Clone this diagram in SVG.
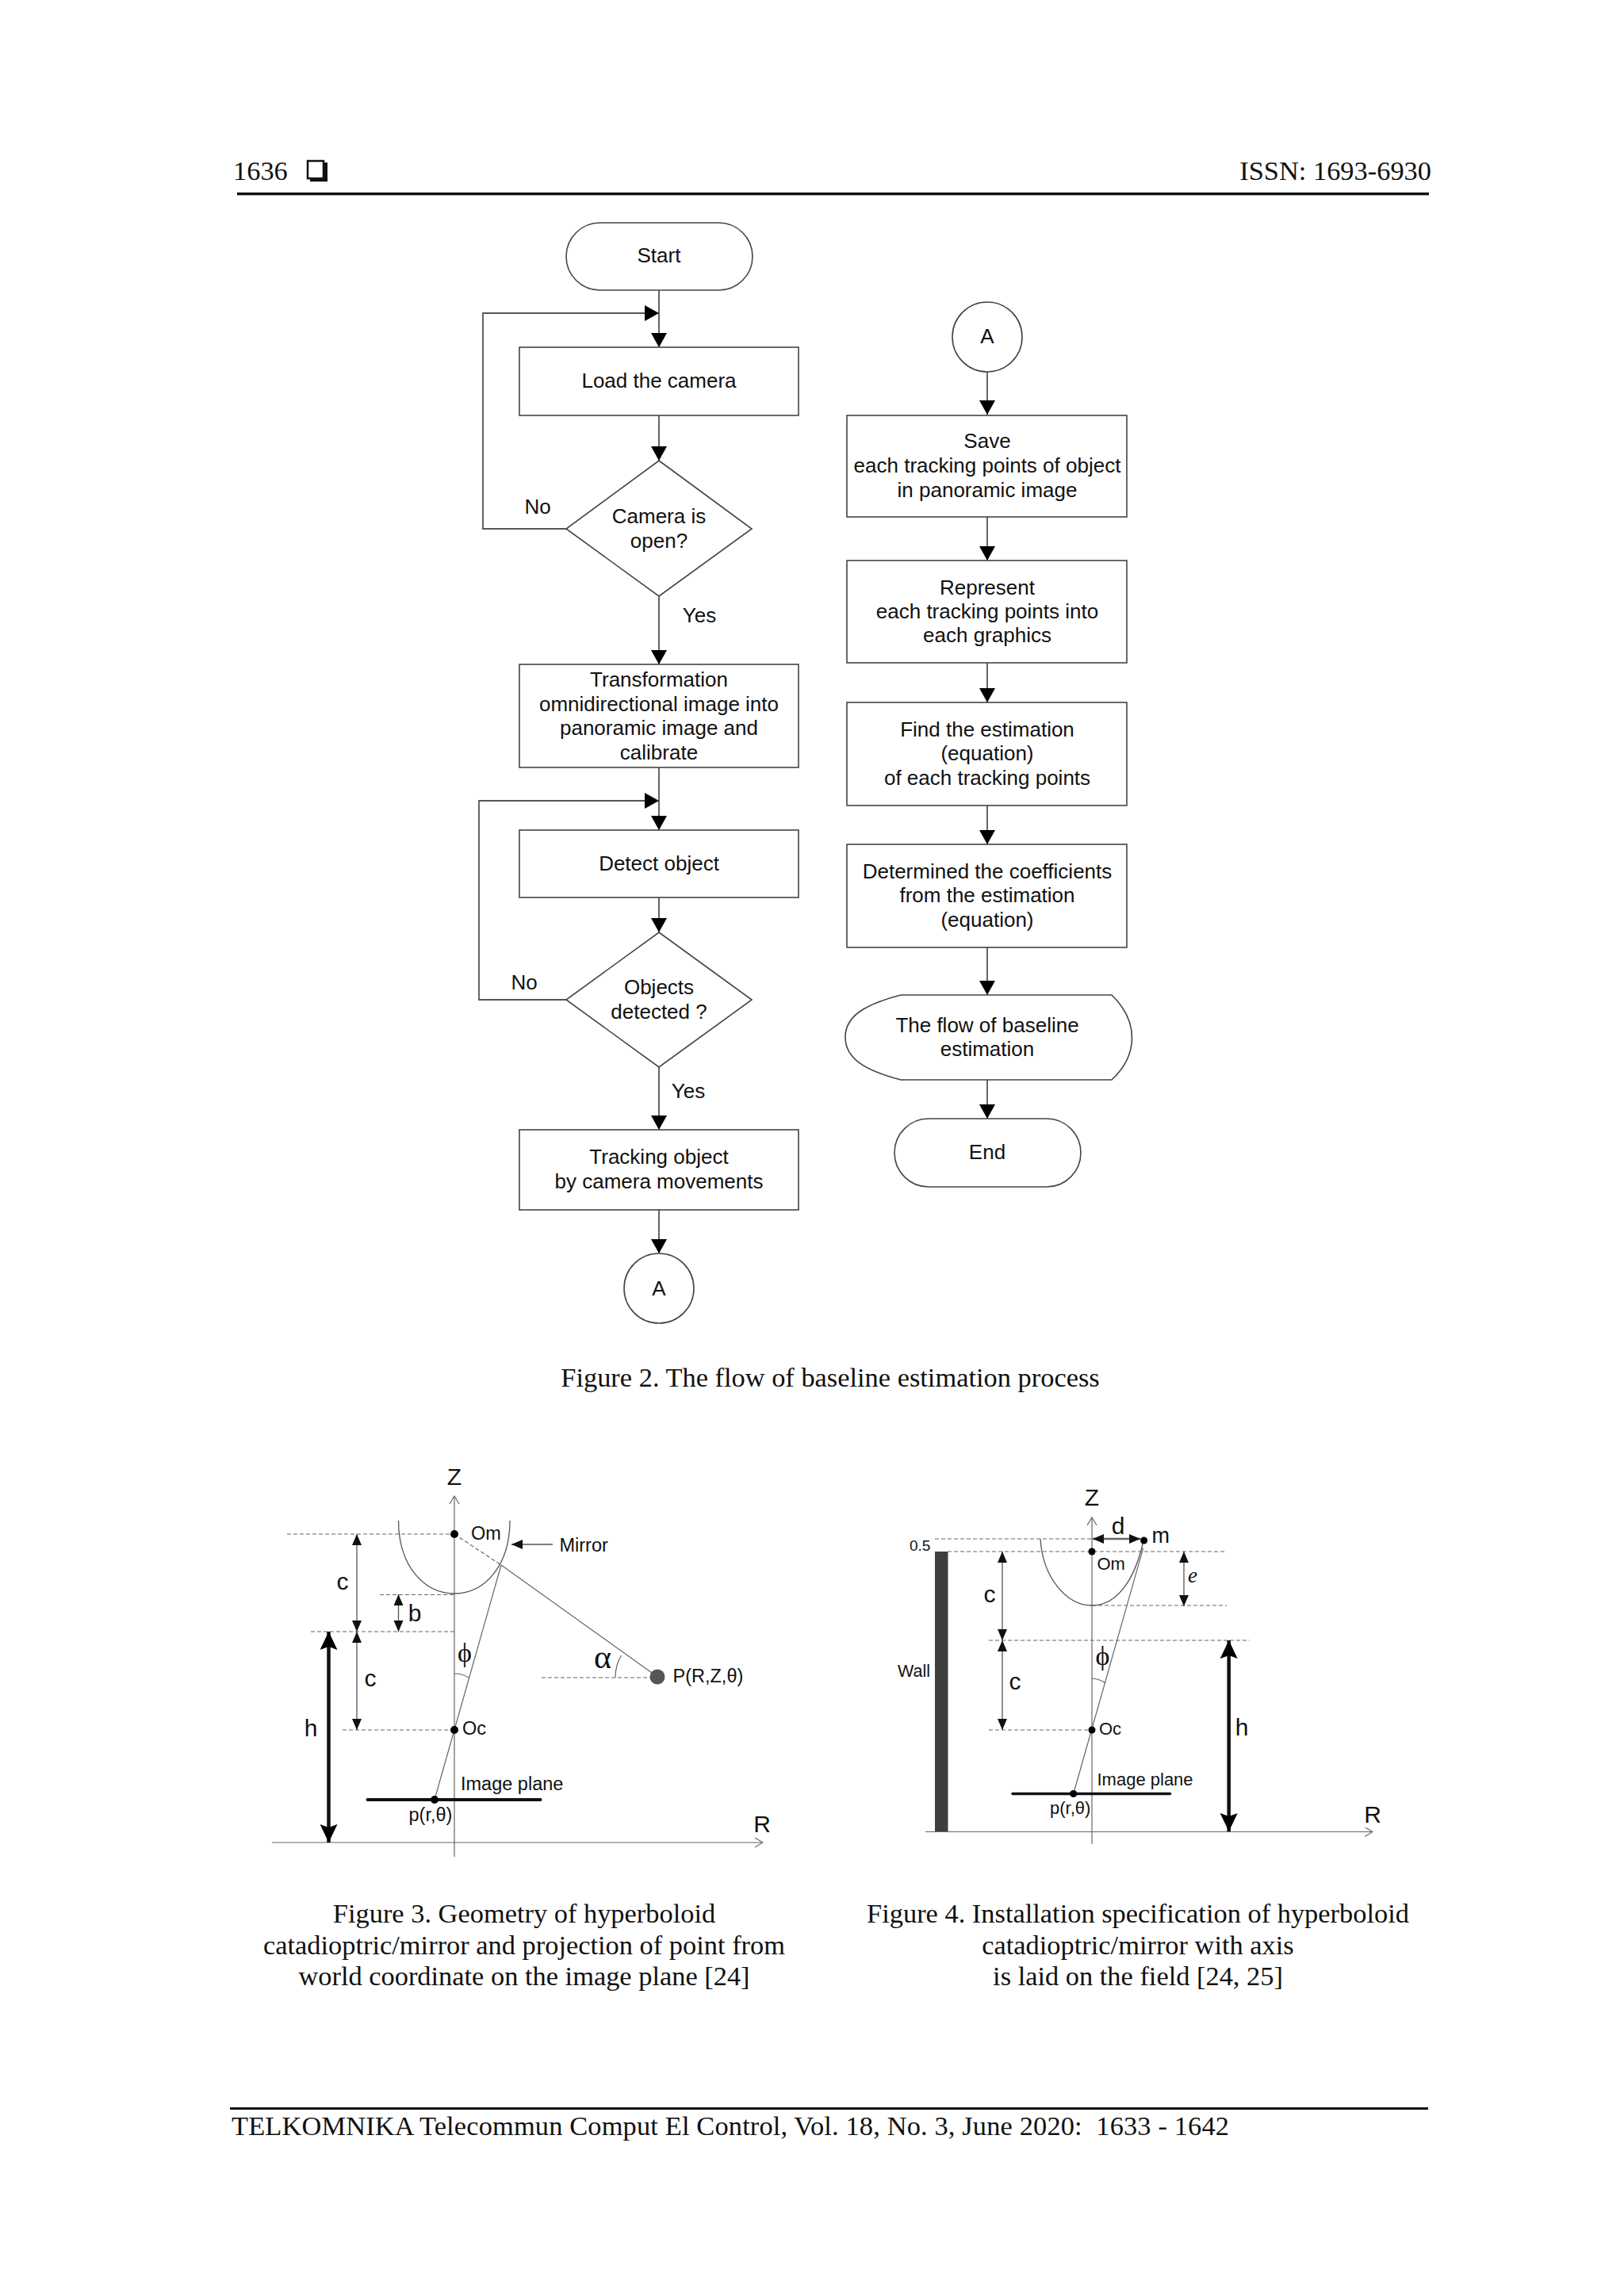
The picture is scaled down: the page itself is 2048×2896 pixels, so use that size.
<svg xmlns="http://www.w3.org/2000/svg" width="2048" height="2896" viewBox="0 0 2048 2896">
<style>
text{font-family:"Liberation Sans",Arial,sans-serif;fill:#111}
.t{font-family:"Liberation Serif","Times New Roman",serif;font-size:34.400px}
.f{font-size:26px;text-anchor:middle}
.n{fill:#fff;stroke:#444;stroke-width:1.6}
.c{fill:none;stroke:#555;stroke-width:1.8}
.g{fill:none;stroke:#666;stroke-width:1.2}
.d{fill:none;stroke:#666;stroke-width:1.2;stroke-dasharray:5 3}
.k{fill:none;stroke:#555;stroke-width:1.3}
.b{fill:none;stroke:#111;stroke-width:4.500}
.l{font-size:23.500px}
.l4{font-size:22px}
.m{font-size:30px;text-anchor:middle}
.gr{font-family:"Liberation Serif",serif;font-size:34px;text-anchor:middle}
.al{font-family:"Liberation Serif",serif;font-size:42px;text-anchor:middle}
</style>
<defs>
<marker id="a" markerUnits="userSpaceOnUse" markerWidth="19" markerHeight="20" refX="18" refY="10" orient="auto"><path d="M0,0L18,10L0,20Z" fill="#000"/></marker>
<marker id="s" markerUnits="userSpaceOnUse" markerWidth="15" markerHeight="13" refX="14" refY="6.500" orient="auto-start-reverse"><path d="M0,0.500L14,6.500L0,12.500Z" fill="#111"/></marker>
<marker id="h" markerUnits="userSpaceOnUse" markerWidth="24" markerHeight="22" refX="23" refY="11" orient="auto-start-reverse"><path d="M0,0L23,11L0,22L4,11Z" fill="#000"/></marker>
<marker id="o" markerUnits="userSpaceOnUse" markerWidth="12" markerHeight="14" refX="11" refY="6" orient="auto"><path d="M1,0L11,6L1,12" fill="none" stroke="#666" stroke-width="1.2"/></marker>
</defs>
<rect width="2048" height="2896" fill="#fff"/>

<g id="page">
<text class="t" x="294" y="227">1636</text>
<path d="M388,203H408V225H388Z" fill="none" stroke="#111" stroke-width="2.500"/><path d="M411,205V227H391" fill="none" stroke="#111" stroke-width="4"/>
<text class="t" x="1805" y="227" text-anchor="end">ISSN: 1693-6930</text>
<path d="M299,244.500H1802" stroke="#111" stroke-width="3.500"/>
<text class="t" x="1047" y="1749" text-anchor="middle">Figure 2. The flow of baseline estimation process</text>
<text class="t" x="661" y="2425" text-anchor="middle">Figure 3. Geometry of hyperboloid</text>
<text class="t" x="661" y="2465" text-anchor="middle">catadioptric/mirror and projection of point from</text>
<text class="t" x="661" y="2504" text-anchor="middle">world coordinate on the image plane [24]</text>
<text class="t" x="1435" y="2425" text-anchor="middle">Figure 4. Installation specification of hyperboloid</text>
<text class="t" x="1435" y="2465" text-anchor="middle">catadioptric/mirror with axis</text>
<text class="t" x="1435" y="2504" text-anchor="middle">is laid on the field [24, 25]</text>
<path d="M290,2659.500H1801" stroke="#111" stroke-width="3"/>
<text class="t" x="292" y="2693" xml:space="preserve" textLength="1258">TELKOMNIKA Telecommun Comput El Control, Vol. 18, No. 3, June 2020:  1633 - 1642</text>
</g>

<g id="connectors">
<path class="c" d="M831,366V438" marker-end="url(#a)"/>
<path class="c" d="M714,667H609V395H831" marker-end="url(#a)"/>
<path class="c" d="M831,524V581" marker-end="url(#a)"/>
<path class="c" d="M831,752V838" marker-end="url(#a)"/>
<path class="c" d="M831,968V1047" marker-end="url(#a)"/>
<path class="c" d="M714,1261H604V1010H831" marker-end="url(#a)"/>
<path class="c" d="M831,1132V1176" marker-end="url(#a)"/>
<path class="c" d="M831,1346V1425" marker-end="url(#a)"/>
<path class="c" d="M831,1526V1581" marker-end="url(#a)"/>
<path class="c" d="M1245,469V523" marker-end="url(#a)"/>
<path class="c" d="M1245,652V707" marker-end="url(#a)"/>
<path class="c" d="M1245,836V886" marker-end="url(#a)"/>
<path class="c" d="M1245,1016V1065" marker-end="url(#a)"/>
<path class="c" d="M1245,1195V1255" marker-end="url(#a)"/>
<path class="c" d="M1245,1362V1411" marker-end="url(#a)"/>
</g>

<g id="start"><rect class="n" x="714" y="281" width="235" height="85" rx="42.500"/><text class="f" x="831" y="331">Start</text></g>
<g id="load"><rect class="n" x="655" y="438" width="352" height="86"/><text class="f" x="831" y="489">Load the camera</text></g>
<g id="camera-open"><path class="n" d="M831,581L948,667L831,752L714,667Z"/><text class="f" x="831" y="660">Camera is</text><text class="f" x="831" y="691">open?</text></g>
<g id="label-no1"><text class="f" x="678" y="648">No</text></g>
<g id="label-yes1"><text class="f" x="882" y="785">Yes</text></g>
<g id="transform"><rect class="n" x="655" y="838" width="352" height="130"/>
<text class="f" x="831" y="866">Transformation</text><text class="f" x="831" y="897">omnidirectional image into</text><text class="f" x="831" y="927">panoramic image and</text><text class="f" x="831" y="958">calibrate</text></g>
<g id="detect"><rect class="n" x="655" y="1047" width="352" height="85"/><text class="f" x="831" y="1098">Detect object</text></g>
<g id="objects-detected"><path class="n" d="M831,1176L948,1261L831,1346L714,1261Z"/><text class="f" x="831" y="1254">Objects</text><text class="f" x="831" y="1285">detected ?</text></g>
<g id="label-no2"><text class="f" x="661" y="1248">No</text></g>
<g id="label-yes2"><text class="f" x="868" y="1385">Yes</text></g>
<g id="tracking"><rect class="n" x="655" y="1425" width="352" height="101"/><text class="f" x="831" y="1468">Tracking object</text><text class="f" x="831" y="1499">by camera movements</text></g>
<g id="a1"><circle class="n" cx="831" cy="1625" r="44"/><text class="f" x="831" y="1634">A</text></g>
<g id="a2"><circle class="n" cx="1245" cy="425" r="44"/><text class="f" x="1245" y="433">A</text></g>
<g id="save"><rect class="n" x="1068" y="524" width="353" height="128"/><text class="f" x="1245" y="565">Save</text><text class="f" x="1245" y="596">each tracking points of object</text><text class="f" x="1245" y="627">in panoramic image</text></g>
<g id="represent"><rect class="n" x="1068" y="707" width="353" height="129"/><text class="f" x="1245" y="750">Represent</text><text class="f" x="1245" y="780">each tracking points into</text><text class="f" x="1245" y="810">each graphics</text></g>
<g id="find"><rect class="n" x="1068" y="886" width="353" height="130"/><text class="f" x="1245" y="929">Find the estimation</text><text class="f" x="1245" y="959">(equation)</text><text class="f" x="1245" y="990">of each tracking points</text></g>
<g id="determined"><rect class="n" x="1068" y="1065" width="353" height="130"/><text class="f" x="1245" y="1108">Determined the coefficients</text><text class="f" x="1245" y="1138">from the estimation</text><text class="f" x="1245" y="1169">(equation)</text></g>
<g id="flow"><path class="n" d="M1136,1255H1402C1436,1288 1436,1330 1402,1362H1136C1090,1350 1066,1335 1066,1308C1066,1282 1090,1267 1136,1255Z"/><text class="f" x="1245" y="1302">The flow of baseline</text><text class="f" x="1245" y="1332">estimation</text></g>
<g id="end"><rect class="n" x="1128" y="1411" width="235" height="86" rx="43"/><text class="f" x="1245" y="1462">End</text></g>

<g id="figure3">
<path class="g" d="M573,2342V1887" marker-end="url(#o)"/>
<path class="g" d="M343,2324H962" marker-end="url(#o)"/>
<path class="k" d="M502.500,1918C502.500,1975 535,2010 573,2010C611,2010 643,1975 643,1918"/>
<path class="d" d="M362,1935H573M479,2011.500H573M392,2058H573M432,2182H573M683,2116H822M573,1935L632,1974"/>
<path class="g" d="M632,1974L829,2115M632,1974L548,2270M573,2111Q584,2111 591,2116M776,2116Q776,2100 783.500,2088"/>
<path class="k" d="M450,1935V2058" marker-start="url(#s)" marker-end="url(#s)"/>
<path class="k" d="M450,2058V2182" marker-start="url(#s)" marker-end="url(#s)"/>
<path class="k" d="M502.500,2011V2058" marker-start="url(#s)" marker-end="url(#s)"/>
<path class="k" d="M697,1948H645" marker-end="url(#s)"/>
<path class="b" d="M414.500,2058V2324" marker-start="url(#h)" marker-end="url(#h)"/>
<path d="M463.500,2270H681.500" stroke="#111" stroke-width="4" stroke-linecap="round"/>
<circle cx="573" cy="1935" r="5" fill="#000"/><circle cx="573" cy="2182" r="5" fill="#000"/><circle cx="548" cy="2270" r="5" fill="#000"/>
<circle cx="829" cy="2115" r="9.500" fill="#555"/>
<text class="m" x="573" y="1873">Z</text><text class="m" x="961" y="2311">R</text>
<text class="l" x="594" y="1942">Om</text><text class="l" x="705.500" y="1957">Mirror</text>
<text class="m" x="432" y="2005">c</text><text class="m" x="523" y="2045">b</text><text class="m" x="467" y="2127">c</text><text class="m" x="392" y="2190">h</text>
<text class="gr" x="586" y="2096">ϕ</text><text class="al" x="760" y="2104">α</text>
<text class="l" x="848.500" y="2122">P(R,Z,θ)</text><text class="l" x="583" y="2188">Oc</text>
<text class="l" x="581" y="2258">Image plane</text><text class="l" x="515.500" y="2297">p(r,θ)</text>
</g>

<g id="figure4">
<rect x="1179" y="1957" width="16.500" height="353.500" fill="#3f3f3f"/>
<path class="g" d="M1377,2326V1914" marker-end="url(#o)"/>
<path class="g" d="M1167,2310.500H1731" marker-end="url(#o)"/>
<path class="k" d="M1312,1941C1315,1990 1345,2025 1377,2025C1410,2025 1432,1990 1442,1943"/>
<path class="d" d="M1179,1941H1440M1195,1957H1547M1377,2025H1547M1247,2069H1576M1247,2182H1377"/>
<path class="g" d="M1441.700,1952.600L1353.700,2262.500M1377,2117Q1388,2118 1394,2123"/>
<path class="k" d="M1264,1957V2069" marker-start="url(#s)" marker-end="url(#s)"/>
<path class="k" d="M1264,2069V2182" marker-start="url(#s)" marker-end="url(#s)"/>
<path class="k" d="M1493,1957V2026" marker-start="url(#s)" marker-end="url(#s)"/>
<path d="M1378,1941H1438" stroke="#666" stroke-width="2.500" marker-start="url(#s)" marker-end="url(#s)"/>
<path class="b" d="M1549.700,2069V2310" marker-start="url(#h)" marker-end="url(#h)"/>
<path d="M1277,2262.500H1475.500" stroke="#111" stroke-width="3.500" stroke-linecap="round"/>
<circle cx="1377" cy="1957" r="4.500" fill="#000"/><circle cx="1377" cy="2182" r="4.500" fill="#000"/><circle cx="1353.700" cy="2262.500" r="4.500" fill="#000"/><circle cx="1442.600" cy="1943" r="4.500" fill="#000"/>
<text class="m" x="1377" y="1899">Z</text><text class="m" x="1731" y="2299">R</text>
<text x="1147" y="1956" font-size="19">0.5</text><text x="1132" y="2115" font-size="21.500">Wall</text>
<text class="l4" x="1383.500" y="1979.500">Om</text><text x="1452.500" y="1946" font-size="27">m</text>
<text class="m" x="1410" y="1935">d</text>
<text x="1504" y="1996" text-anchor="middle" font-size="27" style="font-family:'Liberation Serif',serif;font-style:italic">e</text>
<text class="m" x="1248" y="2021">c</text><text class="m" x="1280" y="2131">c</text><text class="m" x="1566" y="2189">h</text>
<text class="gr" x="1390.500" y="2100">ϕ</text>
<text class="l4" x="1386" y="2188">Oc</text>
<text class="l4" x="1383.500" y="2251.500">Image plane</text><text class="l4" x="1324" y="2287.500">p(r,θ)</text>
</g>
</svg>
